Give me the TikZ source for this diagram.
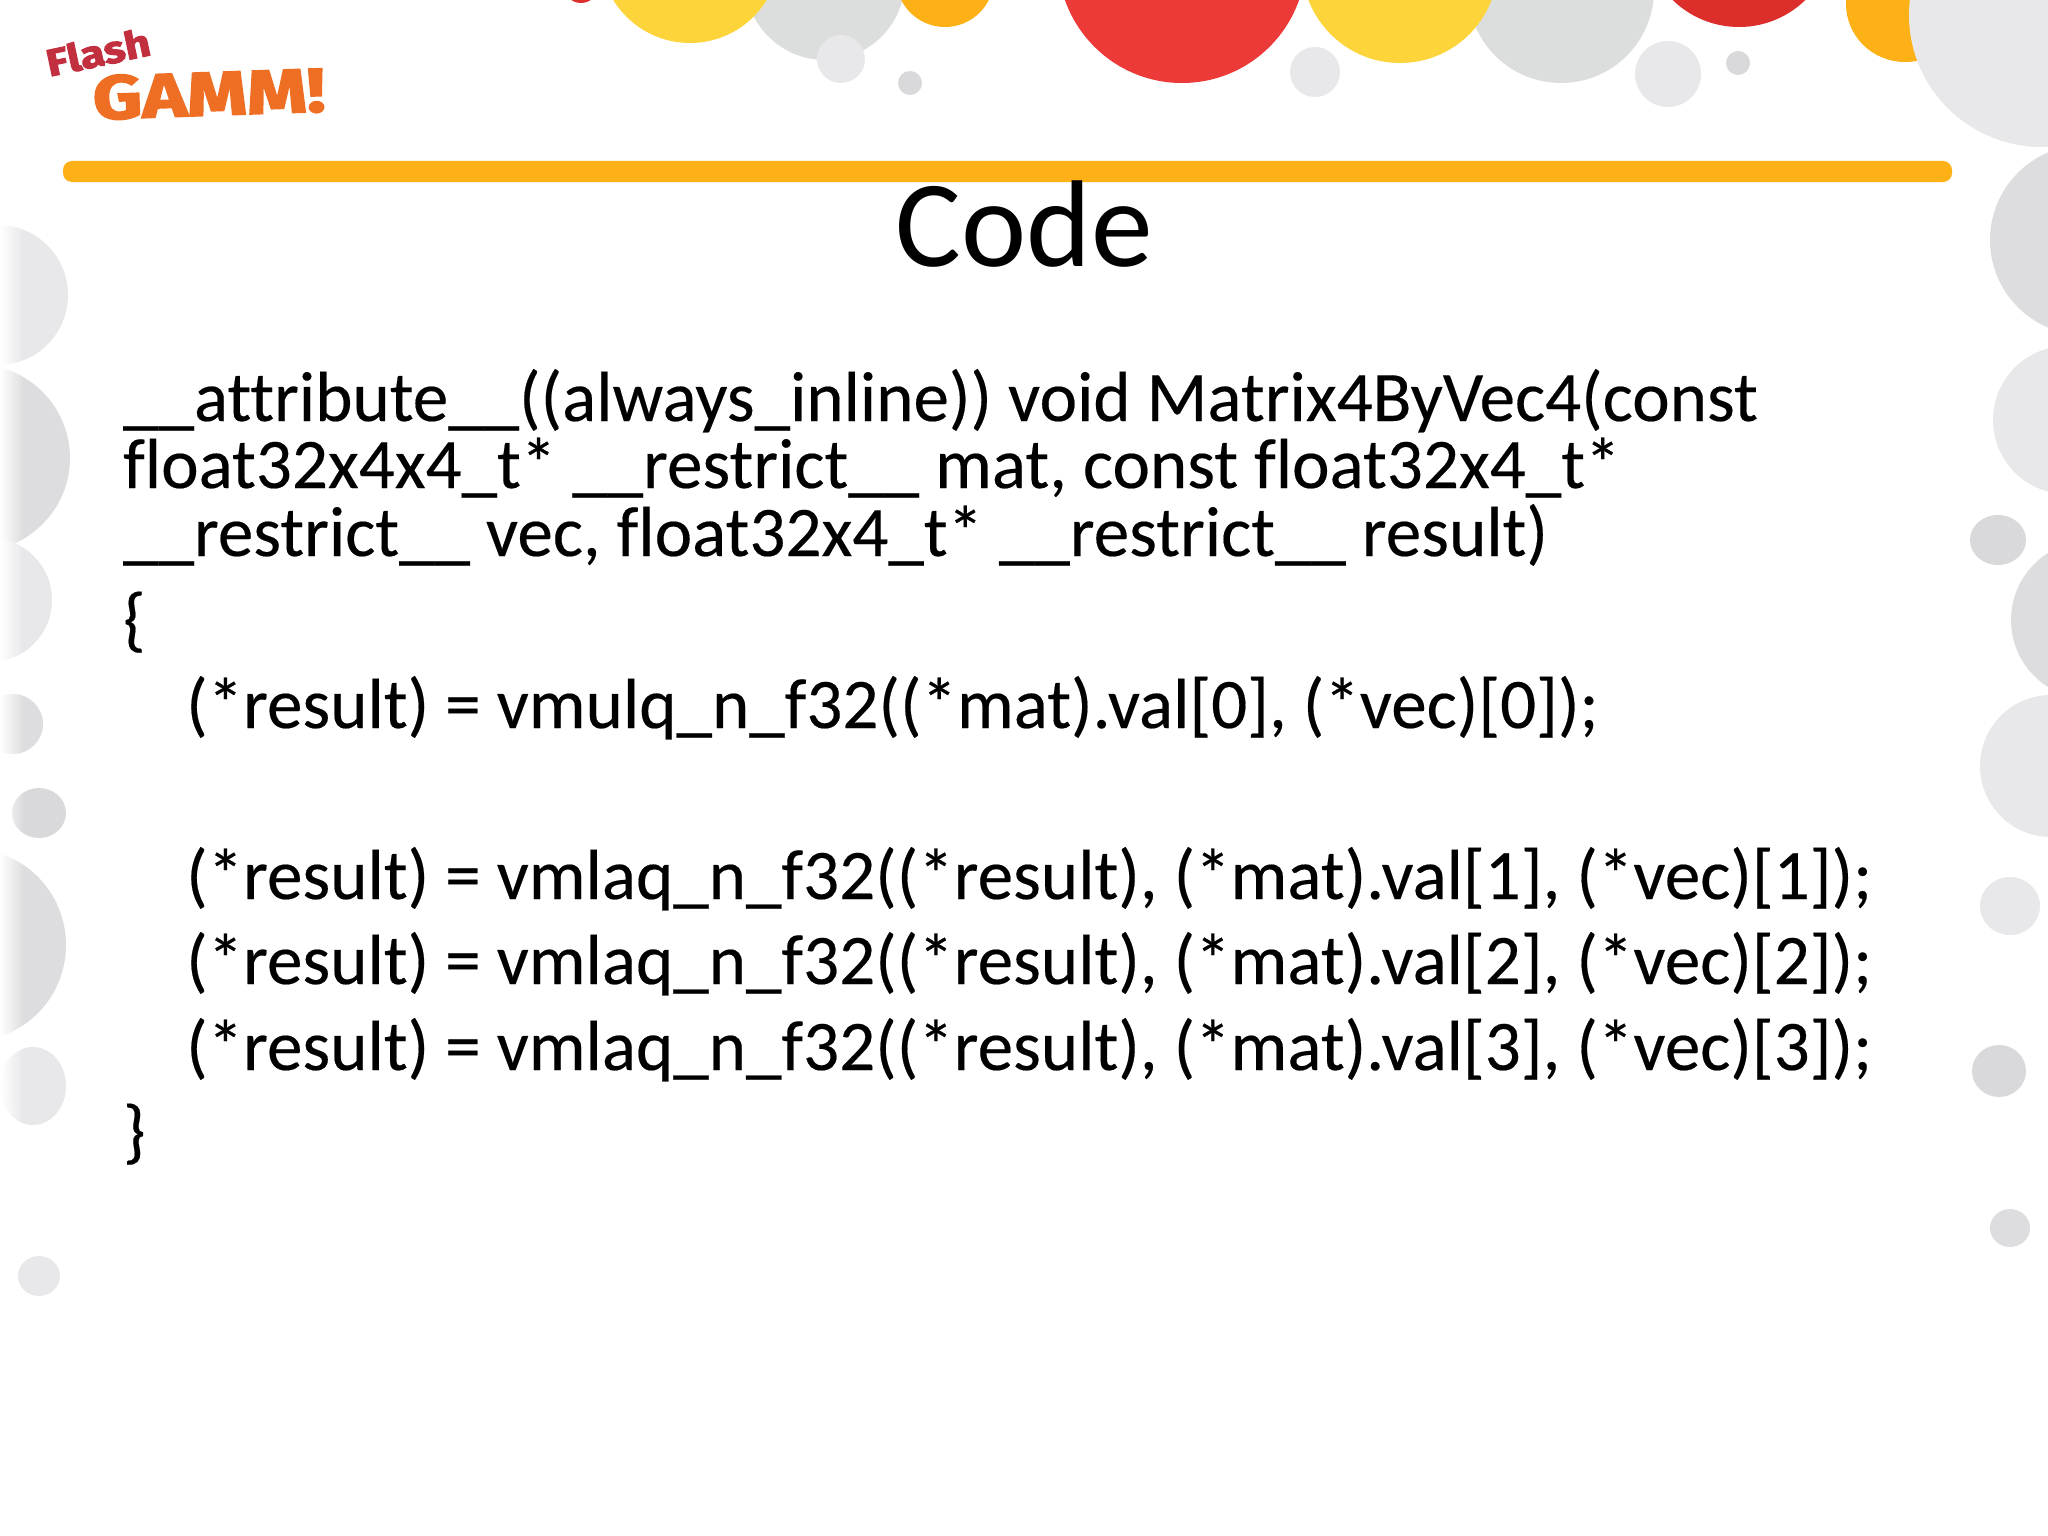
\documentclass[tikz,border=0pt]{standalone}
\usepackage{fontspec}
\usetikzlibrary{fadings}
\setmainfont[Ligatures=NoCommon,FakeBold=0.25]{Carlito}
\newfontfamily\titlefont[Ligatures=NoCommon]{Carlito}
\newfontfamily\logofont[FakeBold=2.5]{Fira Sans Bold}
\definecolor{barO}{HTML}{FDB117}
\definecolor{bubY}{HTML}{FDD53A}
\definecolor{bubR}{HTML}{EC3A38}
\definecolor{bubRd}{HTML}{DC2F2B}
\definecolor{bubG}{HTML}{DCDEDE}
\definecolor{bubL}{HTML}{E8E8EA}
\definecolor{bubM}{HTML}{DDDDDF}
\definecolor{bubS}{HTML}{D9D9DB}
\definecolor{logoR}{HTML}{C23040}
\definecolor{logoO}{HTML}{EE6F24}
\tikzset{
  codeline/.style={anchor=base west,inner sep=0pt,font=\fontsize{71.1}{71.1}\selectfont,text=black},
  titletext/.style={anchor=base,inner sep=0pt,font=\titlefont\fontsize{123.5}{123.5}\selectfont,text=black},
  bub/.style={fill=#1,draw=none}
}
\newcommand{\bubble}[5]{\fill[bub=#1] (#2,#3) ellipse [x radius=#4pt,y radius=#5pt];}
\begin{document}
\begin{tikzpicture}[x=1pt,y=-1pt]
\useasboundingbox (0,0) rectangle (2048,1536);
\fill[white] (0,0) rectangle (2048,1536);
\begin{scope}
\clip (0,0) rectangle (2048,1536);
% top bubbles, grey first
\bubble{bubG}{825}{-20}{80}{80}
\bubble{bubG}{1561}{-10}{93}{93}
\bubble{bubRd}{581}{-14}{17}{17}
\bubble{barO}{945}{-22}{49}{49}
\bubble{bubY}{690}{-47}{90}{90}
\bubble{bubR}{1182}{-41}{124}{124}
\bubble{bubY}{1400}{-35}{98}{98}
\bubble{bubRd}{1739}{-68}{95}{95}
\bubble{barO}{1905}{4}{59}{58}
\bubble{bubL}{2042}{15}{133}{132}
\bubble{bubL}{841}{59}{24}{24}
\bubble{bubS}{910}{83}{12}{12}
\bubble{bubL}{1315}{72}{25}{25}
\bubble{bubL}{1668}{74}{33}{33}
\bubble{bubS}{1738}{63}{12}{12}
% left column
\bubble{bubL}{-2}{295}{70}{70}
\bubble{bubM}{-25}{458}{95}{94}
\bubble{bubL}{-10}{600}{62}{62}
\bubble{bubM}{13}{724}{30}{30}
\bubble{bubS}{39}{813}{27}{25}
\bubble{bubM}{-29}{945}{95}{96}
\bubble{bubL}{33}{1086}{33}{39}
\bubble{bubL}{39}{1276}{21}{20}
% right column
\bubble{bubM}{2085}{240}{95}{95}
\bubble{bubL}{2067}{420}{74}{74}
\bubble{bubS}{1998}{540}{28}{25}
\bubble{bubM}{2090}{620}{79}{79}
\bubble{bubL}{2051}{766}{71}{71}
\bubble{bubL}{2010}{906}{30}{29}
\bubble{bubS}{1999}{1071}{27}{26}
\bubble{bubM}{2010}{1228}{20}{19}
% soft edge fade
\fill[white,path fading=east] (0,200) rectangle (24,1140);
\end{scope}
% rule
\fill[barO,rounded corners=9pt] (63,161) rectangle (1952,182);
% logo
\node[inner sep=0pt,rotate=12,text=logoR,font=\logofont\fontsize{38}{38}\selectfont,xscale=1.17] (logoflash) at (98,52) {Flash};
\node[inner sep=0pt,rotate=2,text=logoO,font=\logofont\fontsize{62}{62}\selectfont,xscale=1.23] (logogamm) at (209,94) {GAMM!};
% text
\node[titletext] (title) at (1024,266) {Code};
\node[codeline] (l1) at (123,421) {\_\_attribute\_\_((always\_inline)) void Matrix4ByVec4(const};
\node[codeline] (l2) at (123,488) {float32x4x4\_t* \_\_restrict\_\_ mat, const float32x4\_t*};
\node[codeline] (l3) at (123,556) {\_\_restrict\_\_ vec, float32x4\_t* \_\_restrict\_\_ result)};
\node[codeline] (l4) at (123,643) {\{};
\node[codeline] (l5) at (186,728) {(*result) = vmulq\_n\_f32((*mat).val[0], (*vec)[0]);};
\node[codeline] (l6) at (186,899) {(*result) = vmlaq\_n\_f32((*result), (*mat).val[1], (*vec)[1]);};
\node[codeline] (l7) at (186,984) {(*result) = vmlaq\_n\_f32((*result), (*mat).val[2], (*vec)[2]);};
\node[codeline] (l8) at (186,1070) {(*result) = vmlaq\_n\_f32((*result), (*mat).val[3], (*vec)[3]);};
\node[codeline] (l9) at (123,1155) {\}};
\end{tikzpicture}
\end{document}
